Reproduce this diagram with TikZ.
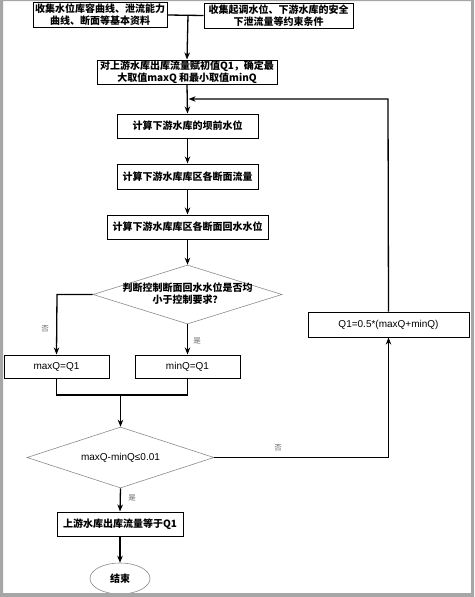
\documentclass[tikz,border=0pt]{standalone}
\usepackage{fontspec}
\setmainfont{Liberation Sans}
\newfontfamily\cjk{Noto Sans CJK SC}
\usetikzlibrary{shapes.geometric,arrows.meta}
\tikzset{
  box/.style={draw=black,line width=1pt,fill=white,inner sep=0pt,align=center,font=\cjk\bfseries\fontsize{10}{12}\selectfont},
  latbox/.style={box,font=\fontsize{10}{11}\selectfont},
  dia/.style={draw=black!45,line width=0.6pt,diamond,inner sep=0pt},
  arr/.style={line width=1.3pt,-{Stealth[length=7pt,width=5.5pt]}},
  ln/.style={line width=1.3pt},
  lab/.style={font=\cjk\fontsize{7.5}{8}\selectfont,text=black!60},
}
\begin{document}
\begin{tikzpicture}[x=1pt,y=-1pt]
\useasboundingbox (0,0) rectangle (474,597);
\fill[white] (0,0) rectangle (474,597);
% nodes
\node[box,minimum width=134,minimum height=25] (A) at (100,15) {收集水位库容曲线、泄流能力\\曲线、断面等基本资料};
\node[box,minimum width=149,minimum height=25] (B) at (278.5,15.5) {收集起调水位、下游水库的安全\\下泄流量等约束条件};
\node[box,minimum width=180,minimum height=24] (C) at (187,72) {对上游水库出库流量赋初值Q1，确定最\\大取值maxQ 和最小取值minQ};
\node[box,minimum width=141,minimum height=24] (D) at (187.5,126) {计算下游水库的坝前水位};
\node[box,minimum width=141,minimum height=25] (E) at (187.5,176.5) {计算下游水库库区各断面流量};
\node[box,minimum width=161,minimum height=24] (F) at (187.5,227) {计算下游水库库区各断面回水水位};
\node[dia,minimum width=189,minimum height=59] (G) at (187.5,294.5) {};
\node[align=center,inner sep=0pt,font=\cjk\bfseries\fontsize{10}{12}\selectfont] (Gt) at (187.5,293.5) {判断控制断面回水水位是否均\\小于控制要求？};
\node[latbox,minimum width=105,minimum height=23] (H) at (56.5,366.5) {maxQ=Q1};
\node[latbox,minimum width=105,minimum height=23] (I) at (187.5,366.5) {minQ=Q1};
\node[dia,minimum width=187,minimum height=61] (J) at (120.5,457.5) {};
\node[inner sep=0pt,font=\fontsize{10}{11}\selectfont] (Jt) at (120.5,458) {maxQ-minQ≤0.01};
\node[latbox,minimum width=161,minimum height=25] (K) at (388.5,324.5) {Q1=0.5*(maxQ+minQ)};
\node[box,minimum width=126,minimum height=24] (L) at (120,524) {上游水库出库流量等于Q1};
\node[draw=black!45,line width=0.6pt,ellipse,minimum width=60,minimum height=31,inner sep=0pt,font=\cjk\bfseries\fontsize{10}{12}\selectfont] (M) at (120,578.5) {结束};
% coordinates
\coordinate (top) at (188,15);
\coordinate (loopT) at (388,99);
\coordinate (loopE) at (188.6,99);
\coordinate (gl) at (57,294.5);
\coordinate (mh) at (56.5,395);
\coordinate (mi) at (187.5,395);
\coordinate (mj) at (120.5,395);
\coordinate (jr) at (388.5,457.5);
% connectors
\draw[ln] (A.east) -- (B.west);
\draw[arr] (top) -- (C.north);
\draw[arr] (C.south) -- (D.north);
\draw[arr] (D.south) -- (E.north);
\draw[arr] (E.south) -- (F.north);
\draw[arr] (F.south) -- (G.north);
\draw[arr] (G.west) -- (gl) -- (H.north);
\draw[arr] (G.south) -- (I.north);
\draw[ln] (H.south) -- (mh) -- (mi) -- (I.south);
\draw[arr] (mj) -- (J.north);
\draw[arr] (J.east) -- (jr) -- (K.south);
\draw[arr] (K.north) -- (loopT) -- (loopE);
\draw[arr] (J.south) -- (L.north);
\draw[arr] (L.south) -- (M.north);
% labels
\node[lab] at (45,329) {否};
\node[lab] at (197,341) {是};
\node[lab] at (278,448) {否};
\node[lab] at (132,498) {是};
% frame
\fill[black!35,even odd rule] (0,0) rectangle (474,597) (3,1) rectangle (471,593);
\end{tikzpicture}
\end{document}
